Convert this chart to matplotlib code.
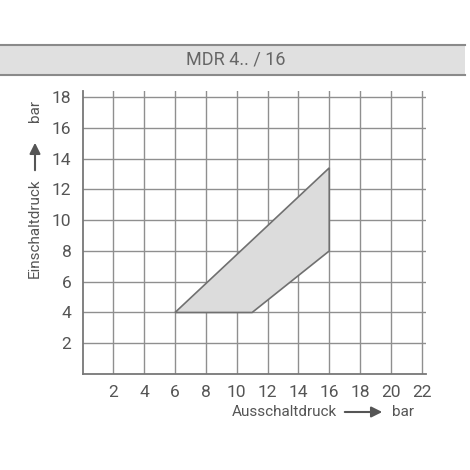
import matplotlib
matplotlib.use("Agg")
import matplotlib.pyplot as plt
from matplotlib.patches import Polygon, Rectangle, FancyArrowPatch
from matplotlib.lines import Line2D

plt.rcParams['font.family'] = ['Roboto', 'DejaVu Sans']

title = "MDR 4.. / 16"
x_label = "Ausschaltdruck"
y_label = "Einschaltdruck"
unit = "bar"
x_ticks = [2, 4, 6, 8, 10, 12, 14, 16, 18, 20, 22]
y_ticks = [2, 4, 6, 8, 10, 12, 14, 16, 18]
region_x = [6, 11, 16, 16]
region_y = [4, 4, 8, 13.4]

W = H = 470
fig = plt.figure(figsize=(4.7, 4.7), dpi=100)
fig.patch.set_facecolor('white')

def fx(px):
    return px / W

def fy(py):
    return 1 - py / H

# title band
fig.add_artist(Rectangle((0, fy(75)), fx(465), fy(45) - fy(75), transform=fig.transFigure,
                         facecolor='#e0e0e0', edgecolor='none', zorder=0))
for yy in (45, 75):
    fig.add_artist(Line2D([0, fx(465)], [fy(yy), fy(yy)], transform=fig.transFigure,
                          color='#8a8a8a', lw=1.5))
fig.text(fx(236), fy(60), title, ha='center', va='center', fontsize=13, color='#666666')

ax = fig.add_axes([fx(82.5), fy(374), fx(426.4) - fx(82.5), fy(91) - fy(374)])
ax.set_xlim(0, 22.3)
ax.set_ylim(0, 18.4)
ax.set_xticks(x_ticks)
ax.set_yticks(y_ticks)
ax.tick_params(length=0, labelsize=12.5, labelcolor='#555555', pad=8)
for s in ('top', 'right'):
    ax.spines[s].set_visible(False)
for s in ('left', 'bottom'):
    ax.spines[s].set_color('#777777')
    ax.spines[s].set_linewidth(1.3)
ax.grid(True, color='#8f8f8f', lw=1.0)
ax.set_axisbelow(True)

pts = list(zip(region_x, region_y))
ax.add_patch(Polygon(pts, closed=True, facecolor='#dcdcdc', edgecolor='#707070', lw=1.2, zorder=3))

# x axis label with arrow
fig.text(fx(232), fy(412), x_label, ha='left', va='center', fontsize=11, color='#555555')
fig.add_artist(FancyArrowPatch((fx(342), fy(412)), (fx(385), fy(412)), transform=fig.transFigure,
                               arrowstyle='-|>', mutation_scale=16, color='#555555', lw=1.5))
fig.text(fx(392), fy(412), unit, ha='left', va='center', fontsize=11, color='#555555')

# y axis label with arrow
fig.text(fx(35), fy(228.5), y_label, ha='center', va='center', rotation=90, fontsize=11, color='#555555')
fig.add_artist(FancyArrowPatch((fx(35), fy(173)), (fx(35), fy(140)), transform=fig.transFigure,
                               arrowstyle='-|>', mutation_scale=16, color='#555555', lw=1.5))
fig.text(fx(35), fy(111), unit, ha='center', va='center', rotation=90, fontsize=11, color='#555555')

fig.savefig('out.png', dpi=100)
